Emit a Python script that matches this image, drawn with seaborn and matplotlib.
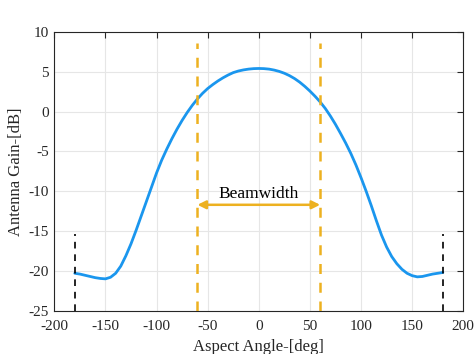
import matplotlib
matplotlib.use("Agg")
import matplotlib.pyplot as plt
import seaborn as sns
import pandas as pd

angle = [-180, -175, -170, -165, -160, -155, -150, -145, -140, -135, -130, -125, -120, -115,
         -110, -105, -100, -95, -90, -85, -80, -75, -70, -65, -60, -55, -50, -45, -40, -35,
         -30, -25, -20, -15, -10, -5, 0, 5, 10, 15, 20, 25, 30, 35, 40, 45, 50, 55, 60, 65,
         70, 75, 80, 85, 90, 95, 100, 105, 110, 115, 120, 125, 130, 135, 140, 145, 150, 155,
         160, 165, 170, 175, 180]
gain = [-20.3, -20.4, -20.55, -20.7, -20.85, -20.95, -21.0, -20.8, -20.3, -19.4, -18.1, -16.6,
        -14.9, -13.1, -11.3, -9.5, -7.7, -6.1, -4.7, -3.4, -2.2, -1.1, -0.1, 0.8, 1.6, 2.3,
        2.9, 3.4, 3.85, 4.25, 4.6, 4.9, 5.1, 5.24, 5.34, 5.4, 5.42, 5.4, 5.34, 5.22, 5.05,
        4.82, 4.52, 4.15, 3.7, 3.17, 2.58, 1.93, 1.22, 0.4, -0.55, -1.6, -2.75, -3.95, -5.25,
        -6.7, -8.3, -10.0, -11.8, -13.7, -15.5, -17.0, -18.2, -19.1, -19.8, -20.3, -20.6,
        -20.75, -20.7, -20.55, -20.4, -20.3, -20.2]
beam_edges = [-60, 60]
range_edges = [-180, 180]
xticks = [-200, -150, -100, -50, 0, 50, 100, 150, 200]
yticks = [-25, -20, -15, -10, -5, 0, 5, 10]

sns.set_style("white")
plt.rcParams['font.family'] = ['Liberation Serif', 'DejaVu Serif']

fig = plt.figure(figsize=(4.74, 3.54), dpi=100)
ax = fig.add_axes([0.1146, 0.1223, 0.8628, 0.7873])

df = pd.DataFrame({"angle": angle, "gain": gain})
sns.lineplot(data=df, x="angle", y="gain", ax=ax, color="#1a96ee", linewidth=2.0, sort=False)

yellow = "#EDB120"
for xe in beam_edges:
    ax.plot([xe, xe], [-25, 8.6], color=yellow, linestyle=(0, (4, 3.5)), linewidth=1.8, zorder=3)
for xe in range_edges:
    ax.plot([xe, xe], [-25, -15.4], color="black", linestyle=(0, (4, 3.5)), linewidth=1.2, zorder=3)

ax.annotate("", xy=(beam_edges[0], -11.7), xytext=(beam_edges[1], -11.7),
            arrowprops=dict(arrowstyle="<|-|>", color=yellow, lw=1.8,
                            mutation_scale=12, shrinkA=0, shrinkB=0))
ax.text(0, -10.3, "Beamwidth", ha="center", va="center", fontsize=12.5, color="black")

ax.set_xlim(-200, 200)
ax.set_ylim(-25, 10)
ax.set_xticks(xticks)
ax.set_yticks(yticks)
ax.set_xticklabels([str(v) for v in xticks])
ax.set_yticklabels([str(v) for v in yticks])
ax.grid(True, color="#e6e6e6", linewidth=0.8)
ax.set_axisbelow(True)
ax.tick_params(direction="in", top=True, right=True, length=4, width=0.8,
               labelsize=11, colors="#262626")
ax.tick_params(axis="x", pad=7)
ax.tick_params(axis="y", pad=4)
for s in ax.spines.values():
    s.set_color("#262626")
    s.set_linewidth(0.8)
ax.set_xlabel("Aspect Angle-[deg]", fontsize=12, labelpad=4)
ax.set_ylabel("Antenna Gain-[dB]", fontsize=12, labelpad=3)

fig.savefig("out.png", dpi=100)
